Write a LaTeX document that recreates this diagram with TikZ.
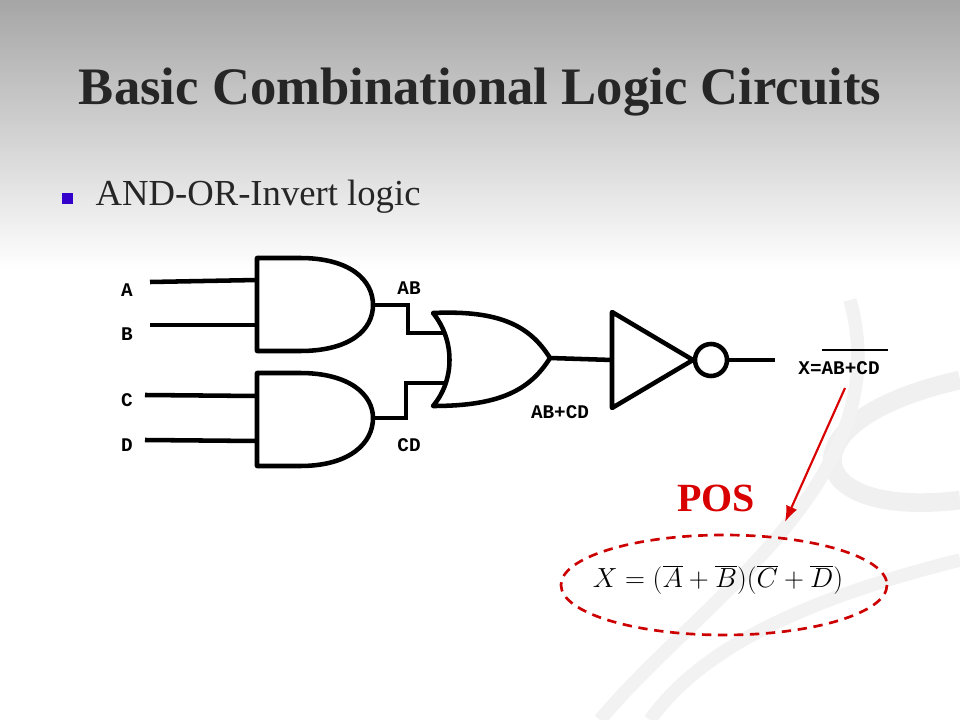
\documentclass[tikz,border=0pt]{standalone}
\usepackage{fontspec}
\setmainfont{Liberation Serif}
\newfontfamily\monob{Liberation Mono}
\usetikzlibrary{arrows.meta}
\begin{document}
\begin{tikzpicture}[x=0.75pt,y=-0.75pt,
  gate/.style={line width=3.4pt,line join=round},
  wire/.style={line width=3.4pt},
  lbl/.style={font=\monob\bfseries\fontsize{14.5}{16}\selectfont,inner sep=0pt}]
\useasboundingbox (0,0) rectangle (960,720);
\shade[top color=gray!70,bottom color=white] (0,0) rectangle (960,270);
\fill[white] (0,270) rectangle (960,720);
% faint swirls
\draw[gray!12,line width=14pt] (960,380) .. controls (780,420) and (800,520) .. (960,500);
\draw[gray!10,line width=10pt] (850,300) .. controls (900,480) and (700,600) .. (600,720);
\draw[gray!10,line width=10pt] (960,560) .. controls (800,600) and (700,650) .. (650,720);
% title
\node (title) [font=\bfseries\fontsize{39.5}{44}\selectfont,text=black!85] at (480,92) {Basic Combinational Logic Circuits};
\fill[blue!60!violet] (62,193) rectangle (73,204);
\node (bul) [anchor=west,font=\fontsize{27.5}{32}\selectfont,text=black!85] at (91,197) {AND-OR-Invert logic};
% AND gates
\draw[gate] (257,258) -- (300,258) .. controls (350,258) and (373,280) .. (373,305) .. controls (373,330) and (350,351) .. (300,351) -- (257,351) -- cycle;
\draw[gate] (257,373) -- (300,373) .. controls (350,373) and (373,395) .. (373,418) .. controls (373,443) and (350,466) .. (300,466) -- (257,466) -- cycle;
\coordinate (a1) at (373,305); \coordinate (a2) at (373,418);
% inputs
\node (A) [lbl] at (127,290) {A};
\node (B) [lbl] at (127,334) {B};
\node (C) [lbl] at (127,400) {C};
\node (D) [lbl] at (127,445) {D};
\draw[wire] (150,282) -- (257,280);
\draw[wire] (150,325) -- (257,325);
\draw[wire] (145,395) -- (257,396);
\draw[wire] (145,440) -- (257,441);
% OR gate
\draw[gate] (433,313) .. controls (455,340) and (455,380) .. (433,406) .. controls (500,406) and (530,390) .. (550,358) .. controls (530,326) and (500,310) .. (433,313) -- cycle;
\draw[wire] (a1) -- (408,305) -- (408,333) -- (446,333);
\draw[wire] (a2) -- (406,418) -- (406,383) -- (446,383);
\node (ab) [lbl] at (409,288) {AB};
\node (cd) [lbl] at (409,445) {CD};
\node (abcd) [lbl] at (560,412) {AB+CD};
% NOT
\draw[wire] (550,358) -- (612,360);
\draw[gate] (612,312) -- (693,360) -- (612,408) -- cycle;
\draw[gate] (711,360) circle (16);
\draw[wire] (727,360) -- (775,360);
\node (x) [lbl] at (839,368) {X=AB+CD};
\draw[line width=1.6pt] (822,350) -- (888,350);
% POS
\node (pos) [font=\bfseries\fontsize{30}{34}\selectfont,text=red!85!black] at (716,498) {POS};
\draw[red!85!black,line width=1.6pt,-{Latex[length=12pt,width=9pt]}] (845,388) -- (785,522);
\draw[red!80!black,line width=2pt,dash pattern=on 7pt off 5pt] (724,585) ellipse (163 and 50);
\node (f) [font=\fontsize{20}{24}\selectfont] at (718,580) {$X=(\overline{A}+\overline{B})(\overline{C}+\overline{D})$};
\end{tikzpicture}
\end{document}
